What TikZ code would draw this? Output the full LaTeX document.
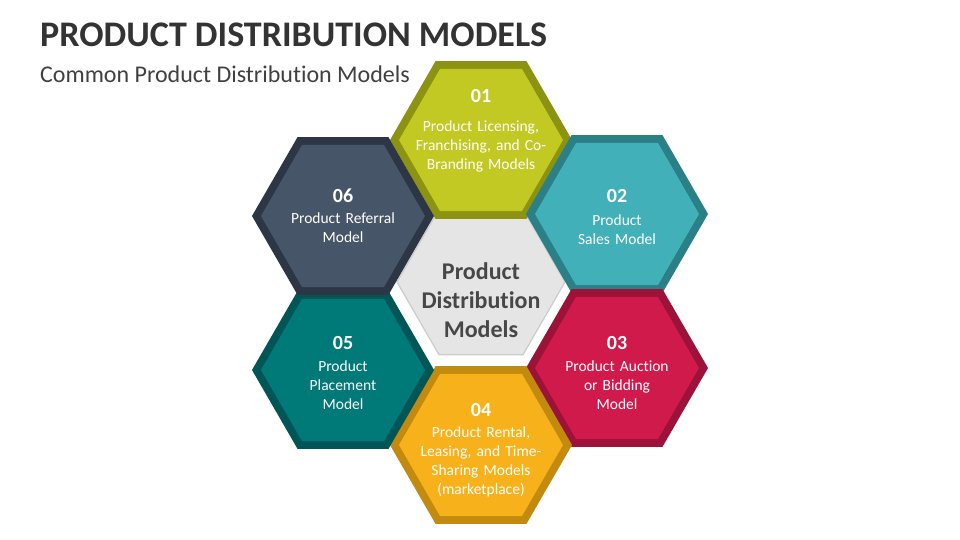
\documentclass[tikz,border=0pt]{standalone}
\usepackage{fontspec}
\setmainfont[Ligatures={NoCommon,NoRare}]{Carlito}
\usetikzlibrary{calc}
\begin{document}
\begin{tikzpicture}[x=1pt,y=-1pt,
  num/.style={text=white,font=\bfseries\fontsize{20}{22}\selectfont,align=center},
  lbl/.style={text=white,font=\fontsize{15.5}{19}\selectfont,align=center,text width=140pt}]
\useasboundingbox[fill=white] (0,0) rectangle (960,540);
\newcommand{\hexa}[4]{%
  \fill[#3] ($(#1)+(0:#2)$) -- ($(#1)+(60:#2)$) -- ($(#1)+(120:#2)$) -- ($(#1)+(180:#2)$) -- ($(#1)+(240:#2)$) -- ($(#1)+(300:#2)$) -- cycle;
  \fill[#4] ($(#1)+(0:#2-9)$) -- ($(#1)+(60:#2-9)$) -- ($(#1)+(120:#2-9)$) -- ($(#1)+(180:#2-9)$) -- ($(#1)+(240:#2-9)$) -- ($(#1)+(300:#2-9)$) -- cycle;}
\node[anchor=west,inner sep=0pt,font=\bfseries\fontsize{36}{40}\selectfont,text=black!80] (title) at (40,35) {PRODUCT DISTRIBUTION MODELS};
\node[anchor=west,inner sep=0pt,font=\fontsize{24}{28}\selectfont,text=black!75] (sub) at (40,74) {Common Product Distribution Models};
\definecolor{c1o}{HTML}{8C9312}\definecolor{c1i}{HTML}{C2C922}
\definecolor{c2o}{HTML}{2B7F86}\definecolor{c2i}{HTML}{42B0B8}
\definecolor{c3o}{HTML}{9C1239}\definecolor{c3i}{HTML}{D01A4B}
\definecolor{c4o}{HTML}{C28A0E}\definecolor{c4i}{HTML}{F7B11B}
\definecolor{c5o}{HTML}{005657}\definecolor{c5i}{HTML}{007979}
\definecolor{c6o}{HTML}{2C3644}\definecolor{c6i}{HTML}{475569}
\coordinate (h0) at (481,282);
\coordinate (h1) at (481,140);
\coordinate (h2) at (617,214);
\coordinate (h3) at (617,368);
\coordinate (h4) at (481,445);
\coordinate (h5) at (343,370);
\coordinate (h6) at (343,216);
\draw[fill=black!10,draw=black!20,line width=1.2pt] ($(h0)+(0:84)$) -- ($(h0)+(60:84)$) -- ($(h0)+(120:84)$) -- ($(h0)+(180:84)$) -- ($(h0)+(240:84)$) -- ($(h0)+(300:84)$) -- cycle;
\hexa{h1}{91}{c1o}{c1i}
\hexa{h2}{91}{c2o}{c2i}
\hexa{h3}{91}{c3o}{c3i}
\hexa{h4}{91}{c4o}{c4i}
\hexa{h5}{91}{c5o}{c5i}
\hexa{h6}{91}{c6o}{c6i}
\node[font=\bfseries\fontsize{24}{29}\selectfont,text=black!72,align=center] (t0) at (481,300) {Product\\Distribution\\Models};
\node[num] (n1) at (481,96) {01};
\node[lbl] (l1) at (481,146) {Product Licensing,\\Franchising, and Co-\\Branding Models};
\node[num] (n2) at (617,196) {02};
\node[lbl] (l2) at (617,230) {Product\\Sales Model};
\node[num] (n3) at (617,343) {03};
\node[lbl] (l3) at (617,385) {Product Auction\\or Bidding\\Model};
\node[num] (n4) at (481,410) {04};
\node[lbl] (l4) at (481,462) {Product Rental,\\Leasing, and Time-\\Sharing Models\\(marketplace)};
\node[num] (n5) at (343,343) {05};
\node[lbl] (l5) at (343,385) {Product\\Placement\\Model};
\node[num] (n6) at (343,196) {06};
\node[lbl] (l6) at (343,228) {Product Referral\\Model};
\end{tikzpicture}
\end{document}
